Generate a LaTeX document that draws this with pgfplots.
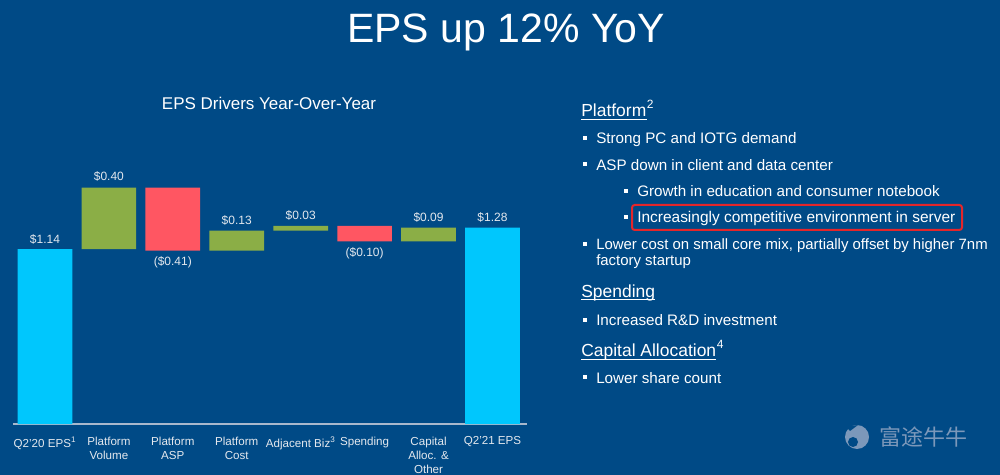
\documentclass[border=0pt]{standalone}
\usepackage{fontspec}
\setmainfont{Liberation Sans}
\newfontfamily\cjk{Noto Sans CJK SC}
\usepackage{pgfplots}
\pgfplotsset{compat=1.18}
\definecolor{bg}{HTML}{004A86}
\definecolor{epsblue}{HTML}{00C7FD}
\definecolor{posgreen}{HTML}{8BAE46}
\definecolor{negred}{HTML}{FF5662}
\definecolor{lbl}{HTML}{E4E8EE}
\definecolor{axisgray}{HTML}{A9B8CC}
\definecolor{wm}{HTML}{7C98BA}
\definecolor{boxred}{HTML}{E5262A}
\tikzset{
  lab/.style={font=\fontsize{9}{10}\selectfont, text=lbl},
  hdr/.style={font=\fontsize{13.1}{16}\selectfont, text=white, anchor=base west, inner sep=0},
  body/.style={font=\fontsize{11.4}{14}\selectfont, text=white, anchor=base west, inner sep=0},
}
\begin{document}
\begin{tikzpicture}
\useasboundingbox (0,0) rectangle (750pt,356.25pt);
\fill[bg] (0,0) rectangle (750pt,356.25pt);
\begin{axis}[
  at={(9.75pt,38.25pt)}, anchor=south west,
  scale only axis, width=385.5pt, height=184.2pt,
  xmin=-0.5, xmax=7.54, ymin=0, ymax=1.6,
  ybar stacked, bar width=41pt,
  axis x line*=bottom, axis y line=none,
  x axis line style={draw=axisgray, line width=1pt, -},
  xtick={0,...,7}, major tick length=0pt, ytick=\empty,
  xticklabels={{Q2'20 EPS\textsuperscript{1}},{Platform\\Volume},{Platform\\ASP},{Platform\\Cost},{Adjacent Biz\textsuperscript{3}},{Spending},{Capital\\Alloc. \&\\Other},{Q2'21 EPS}},
  xticklabel style={align=center, font=\fontsize{8.7}{10.5}\selectfont, text=lbl, anchor=north, yshift=-6pt},
  clip=false,
]
\addplot[draw=none, fill=none, forget plot] coordinates {(0,0) (1,1.14) (2,1.13) (3,1.13) (4,1.26) (5,1.19) (6,1.19) (7,0)};
\addplot[draw=none, fill=epsblue] coordinates {(0,1.14) (1,0) (2,0) (3,0) (4,0) (5,0) (6,0) (7,1.28)};
\addplot[draw=none, fill=posgreen] coordinates {(0,0) (1,0.40) (2,0) (3,0.13) (4,0.03) (5,0) (6,0.09) (7,0)};
\addplot[draw=none, fill=negred] coordinates {(0,0) (1,0) (2,0.41) (3,0) (4,0) (5,0.10) (6,0) (7,0)};
\node[lab, yshift=7pt] at (axis cs:0,1.14) {\$1.14};
\node[lab, yshift=8pt] at (axis cs:1,1.54) {\$0.40};
\node[lab, yshift=-8.5pt] at (axis cs:2,1.13) {(\$0.41)};
\node[lab, yshift=7.5pt] at (axis cs:3,1.26) {\$0.13};
\node[lab, yshift=8pt] at (axis cs:4,1.29) {\$0.03};
\node[lab, yshift=-9pt] at (axis cs:5,1.19) {(\$0.10)};
\node[lab, yshift=7.5pt] at (axis cs:6,1.28) {\$0.09};
\node[lab, yshift=7.5pt] at (axis cs:7,1.28) {\$1.28};
\end{axis}
\begin{scope}[x=0.75pt,y=0.75pt]
\node[anchor=base, font=\fontsize{30.75}{36}\selectfont, text=white, inner sep=0] at (506,432) {EPS up 12\% YoY};
\node[anchor=base, font=\fontsize{12.75}{15}\selectfont, text=white, inner sep=0] at (269,365) {EPS Drivers Year-Over-Year};
% Platform
\node[hdr] (h1) at (581,358.3) {Platform};
\node[hdr, font=\fontsize{9}{10}\selectfont] at ([yshift=6pt]h1.base east) {2};
\draw[white, line width=0.7pt] ([yshift=-2pt]h1.base west) -- ([yshift=-2pt]h1.base east);
\fill[white] (583,335) rectangle (587,339);
\node[body] at (596,331) {Strong PC and IOTG demand};
\fill[white] (583,309) rectangle (587,313);
\node[body] at (596,304.3) {ASP down in client and data center};
\fill[white] (624,282.3) rectangle (628,286.3);
\node[body] at (637,278.3) {Growth in education and consumer notebook};
\fill[white] (624,256.3) rectangle (628,260.3);
\node[body, font=\fontsize{11.6}{14}\selectfont] at (637,252.3) {Increasingly competitive environment in server};
\draw[boxred, line width=1.5pt, rounded corners=2pt] (632,245) rectangle (962,270);
\fill[white] (583,229) rectangle (587,233);
\node[body, font=\fontsize{11.2}{14}\selectfont] at (596,225) {Lower cost on small core mix, partially offset by higher 7nm};
\node[body, font=\fontsize{11.2}{14}\selectfont] at (596,209) {factory startup};
% Spending
\node[hdr] (h2) at (581,177.7) {Spending};
\draw[white, line width=0.7pt] ([yshift=-2pt]h2.base west) -- ([yshift=-2pt]h2.base east);
\fill[white] (583,153.3) rectangle (587,157.3);
\node[body] at (596,149.3) {Increased R\&D investment};
% Capital Allocation
\node[hdr] (h3) at (581,118.3) {Capital Allocation};
\node[hdr, font=\fontsize{9}{10}\selectfont] at ([yshift=6pt]h3.base east) {4};
\draw[white, line width=0.7pt] ([yshift=-2pt]h3.base west) -- ([yshift=-2pt]h3.base east);
\fill[white] (583,95.7) rectangle (587,99.7);
\node[body] at (596,91.7) {Lower share count};
% watermark
\fill[wm] (857,38) circle (12);
\fill[bg] (853,33) circle (5);
\fill[bg] (850,44) -- (858,50) -- (846,48) -- cycle;
\node[font=\cjk\fontsize{16.5}{18}\selectfont, text=wm, anchor=west, inner sep=0] at (879,38) {富途牛牛};
\end{scope}
\end{tikzpicture}
\end{document}
